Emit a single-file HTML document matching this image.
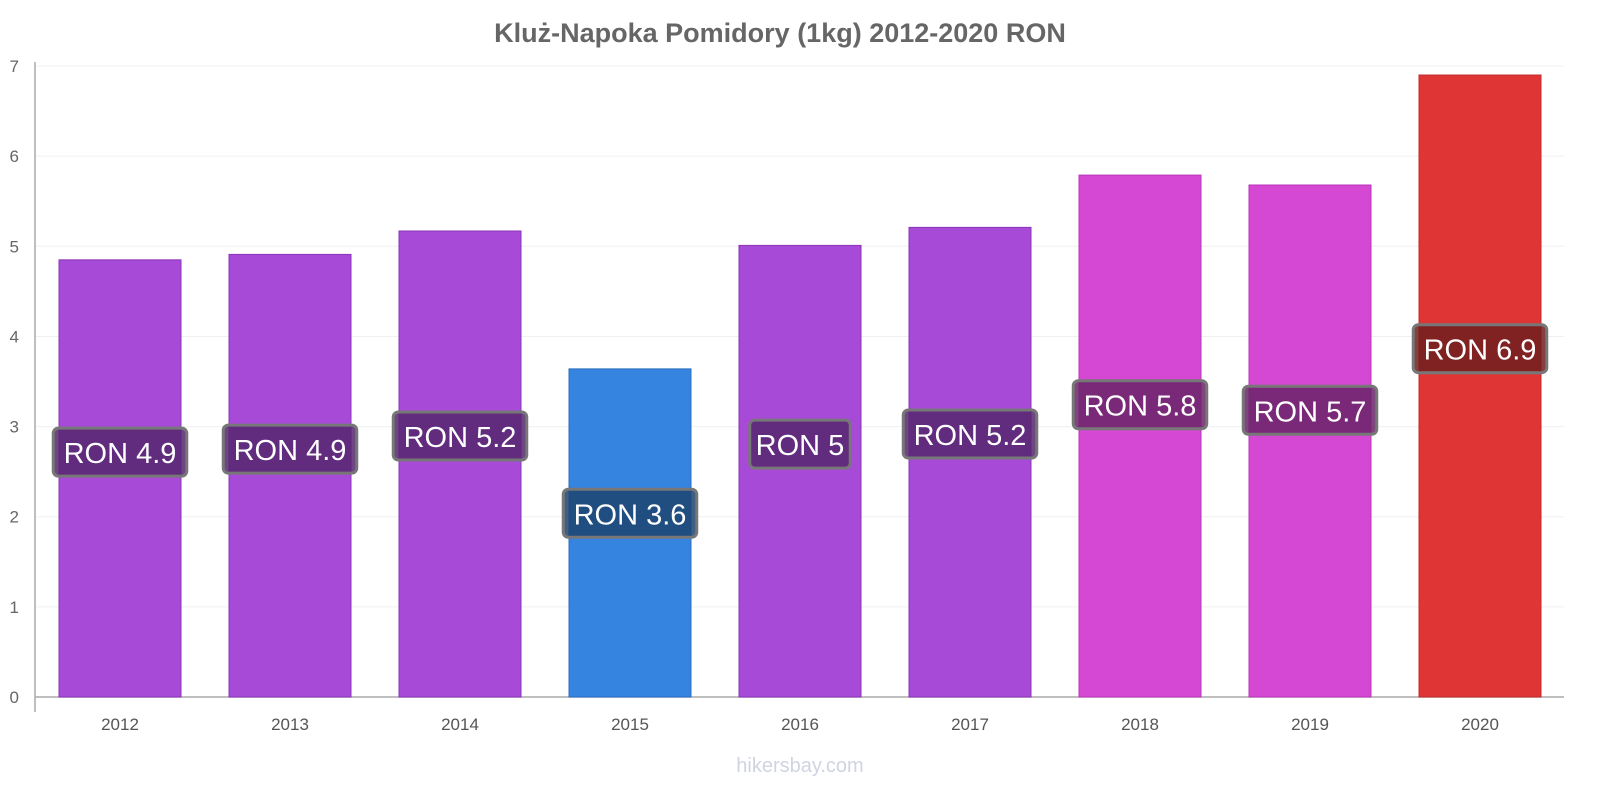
<!DOCTYPE html>
<html><head><meta charset="utf-8"><style>
body{margin:0;background:#fff;font-family:"Liberation Sans",sans-serif}
</style></head><body>
<svg id="c" width="1600" height="800" xmlns="http://www.w3.org/2000/svg">
<text x="780" y="42" text-anchor="middle" font-size="27" font-weight="bold" fill="#666">Kluż-Napoka Pomidory (1kg) 2012-2020 RON</text>
<text x="800" y="772" text-anchor="middle" font-size="20" fill="#d0d4e0">hikersbay.com</text>
<g id="grid"></g><g id="bars"></g><g id="labels"></g>
</svg>
<script>
const categories=["2012","2013","2014","2015","2016","2017","2018","2019","2020"];
const values=[4.85,4.91,5.17,3.64,5.01,5.21,5.79,5.68,6.9];
const valueLabels=["RON 4.9","RON 4.9","RON 5.2","RON 3.6","RON 5","RON 5.2","RON 5.8","RON 5.7","RON 6.9"];
const colorKinds=["p","p","p","b","p","p","m","m","r"];
const yTicks=[0,1,2,3,4,5,6,7];
const NS="http://www.w3.org/2000/svg";
const pal={p:["#a84ad8","#8a35b8","#55266e"],b:["#3584e0","#2a6cc0","#1d4470"],m:["#d548d4","#b836b6","#6a2468"],r:["#e03535","#c02a2a","#701e1e"]};
const y0=697,unit=90.14,x0=35,band=170;
const y=v=>y0-v*unit, x=i=>x0+i*band;
function mk(t,a,p){const e=document.createElementNS(NS,t);for(const k in a)e.setAttribute(k,a[k]);p.appendChild(e);return e;}
const g=document.getElementById('grid'),b=document.getElementById('bars'),l=document.getElementById('labels');
yTicks.forEach(t=>{
 const ln=mk('line',{x1:x0,x2:1564,y1:y(t),y2:y(t),stroke:t?'#f0f0f0':'#aaa','stroke-width':t?1:1.5},g);
 
 
 const tx=mk('text',{x:19,y:y(t)+6,'text-anchor':'end','font-size':17,fill:'#666'},g);tx.textContent=t;
 
 
});
const ax=mk('line',{x1:x0,x2:x0,y1:62,y2:712,stroke:'#aaa','stroke-width':1.5},g);


categories.forEach((c,i)=>{
 const col=pal[colorKinds[i]];
 const r=mk('rect',{x:x(i)+24,y:y(values[i]),width:122,height:values[i]*unit,fill:col[0],stroke:col[1],'stroke-width':1},b);
 
 
 const t=mk('text',{x:x(i)+85,y:730,'text-anchor':'middle','font-size':17,fill:'#555'},g);t.textContent=c;
 
 
 const cy=y0-values[i]*unit*0.56;
 const w=valueLabels[i].length*16.5+18;
 const bg=mk('rect',{x:x(i)+85-w/2,y:cy-24,width:w,height:48,rx:5,fill:col[2],'fill-opacity':0.85,stroke:'#777','stroke-width':3},l);
 
 
 const vt=mk('text',{x:x(i)+85,y:cy+11,'text-anchor':'middle','font-size':29,fill:'#fff'},l);vt.textContent=valueLabels[i];
 
 
});
</script>
</body></html>
